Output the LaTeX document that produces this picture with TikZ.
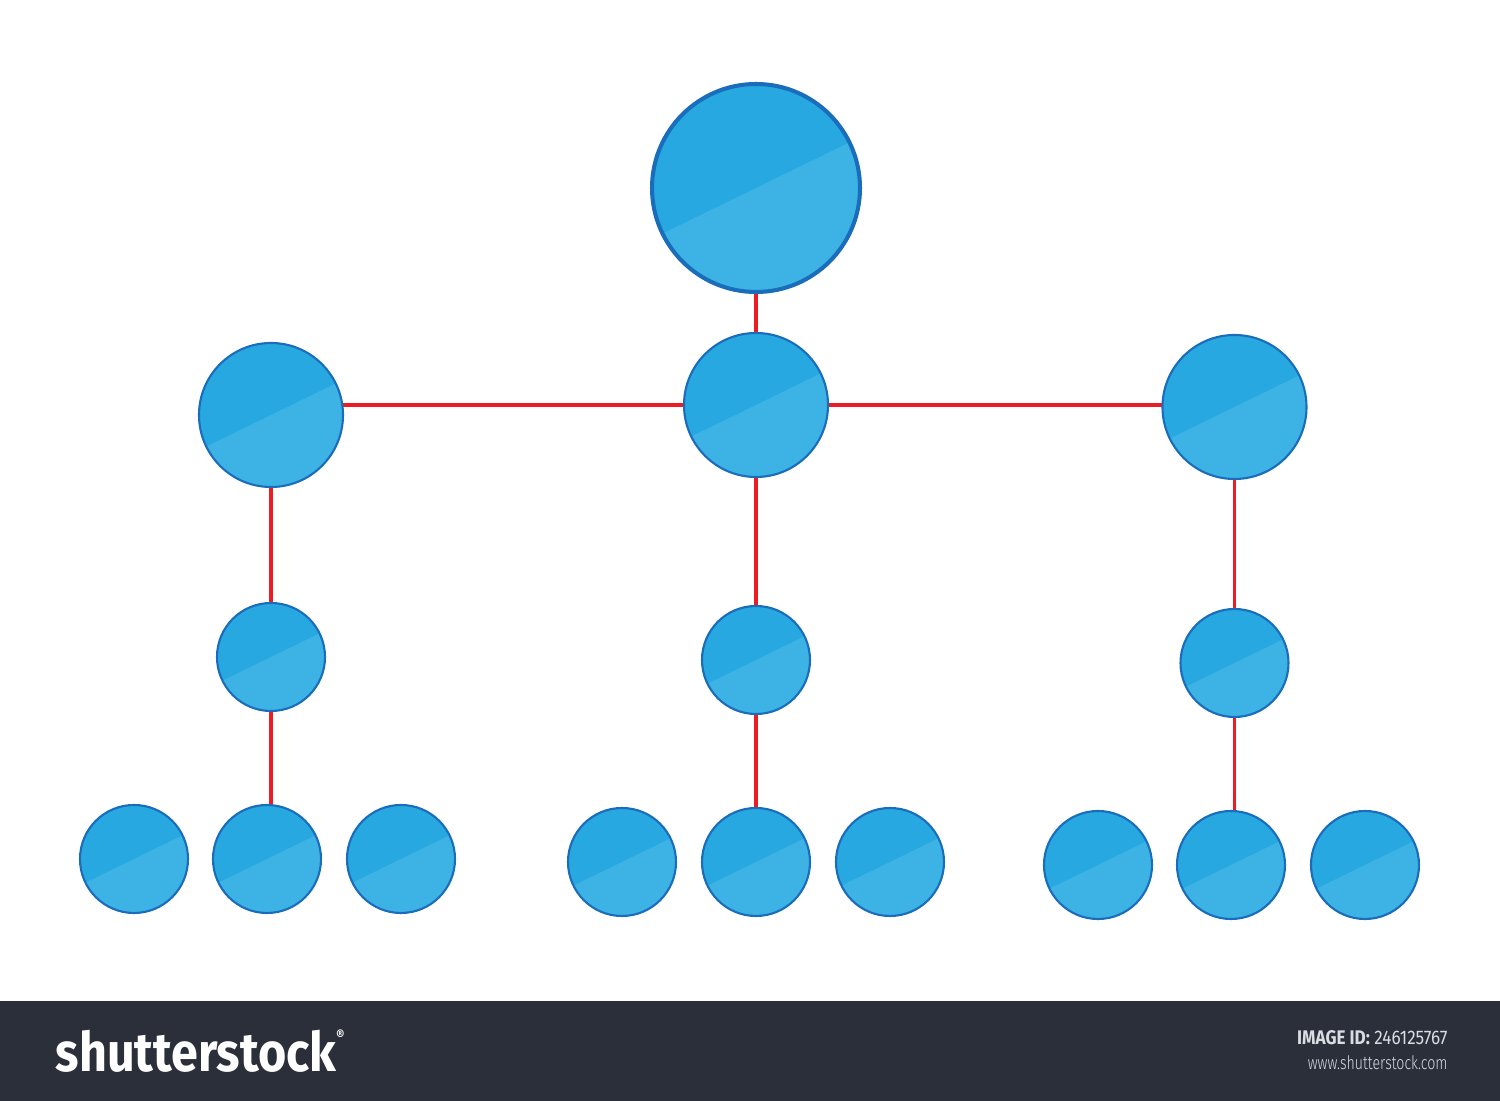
\documentclass[tikz,border=0pt]{standalone}
\usepackage{fontspec}
\usepackage{tikz}
\newfontfamily\bandfont{Fira Sans}
\newfontfamily\bandlight{Fira Sans Light}
\definecolor{nodeblue}{HTML}{27A8E0}
\definecolor{nodelight}{HTML}{3CB3E4}
\definecolor{nodeedge}{HTML}{1A6DBA}
\definecolor{linkred}{HTML}{ED1C24}
\definecolor{bandgrey}{HTML}{2A2F3A}
\definecolor{bandtext}{HTML}{D9DCE1}
\pgfdeclarelayer{backlayer}
\pgfdeclarelayer{edgelayer}
\pgfdeclarelayer{nodelayer}
\pgfsetlayers{backlayer,edgelayer,nodelayer,main}
\tikzstyle{none}=[inner sep=0pt]
\tikzstyle{bn}=[circle,fill=nodeblue,draw=nodeedge,line width=0.6pt,inner sep=0pt,outer sep=0pt,path picture={\fill[nodelight] (path picture bounding box.center) ++(26:2) -- ++(206:4) -- ++(-64:2) -- ++(26:4) -- cycle;}]
\tikzstyle{big}=[style=bn,line width=1.15pt,minimum size=2.08cm]
\tikzstyle{mid}=[style=bn,minimum size=1.44cm]
\tikzstyle{small}=[style=bn,minimum size=1.08cm]
\tikzstyle{link}=[-,draw=linkred,line width=1.1pt]
\tikzstyle{band}=[fill=bandgrey,draw=none]
\begin{document}
\begin{tikzpicture}
	\useasboundingbox (0,0) rectangle (15,-11.01);
	\begin{pgfonlayer}{backlayer}
		\fill[white] (0,0) rectangle (15,-11.01);
		\fill[style=band] (0,-10.01) rectangle (15,-11.01);
	\end{pgfonlayer}
	\begin{pgfonlayer}{nodelayer}
		\node [style=big] (0) at (7.56, -1.88) {};
		\node [style=mid] (1) at (2.71, -4.15) {};
		\node [style=mid] (2) at (7.56, -4.05) {};
		\node [style=mid] (3) at (12.345, -4.07) {};
		\node [style=small] (4) at (2.71, -6.57) {};
		\node [style=small] (5) at (7.56, -6.60) {};
		\node [style=small] (6) at (12.345, -6.63) {};
		\node [style=small] (7) at (1.34, -8.59) {};
		\node [style=small] (8) at (2.67, -8.59) {};
		\node [style=small] (9) at (4.01, -8.59) {};
		\node [style=small] (10) at (6.22, -8.62) {};
		\node [style=small] (11) at (7.56, -8.62) {};
		\node [style=small] (12) at (8.90, -8.62) {};
		\node [style=small] (13) at (10.98, -8.65) {};
		\node [style=small] (14) at (12.31, -8.65) {};
		\node [style=small] (15) at (13.65, -8.65) {};
		\node [style=none, anchor=base west, text=white, xscale=0.89] (16) at (0.55, -10.72) {\bandfont\fontsize{15.5}{16}\selectfont\bfseries shutterstock\raisebox{1.1ex}{\fontsize{4}{4}\selectfont\textregistered}};
		\node [style=none, anchor=base east, text=bandtext, xscale=0.87] (17) at (14.48, -10.45) {\bandfont\fontsize{5.6}{6}\selectfont{\bfseries IMAGE ID:} 246125767};
		\node [style=none, anchor=base east, text=bandtext, xscale=0.76] (18) at (14.48, -10.70) {\bandlight\fontsize{5.3}{6}\selectfont www.shutterstock.com};
	\end{pgfonlayer}
	\begin{pgfonlayer}{edgelayer}
		\draw [style=link] (0) to (2);
		\draw [style=link] (2) to (2 -| 1);
		\draw [style=link] (2) to (2 -| 3);
		\draw [style=link] (1) to (4);
		\draw [style=link] (4) to (4 |- 8);
		\draw [style=link] (2) to (5);
		\draw [style=link] (5) to (11);
		\draw [style=link] (3) to (6);
		\draw [style=link] (6) to (6 |- 14);
	\end{pgfonlayer}
\end{tikzpicture}
\end{document}
